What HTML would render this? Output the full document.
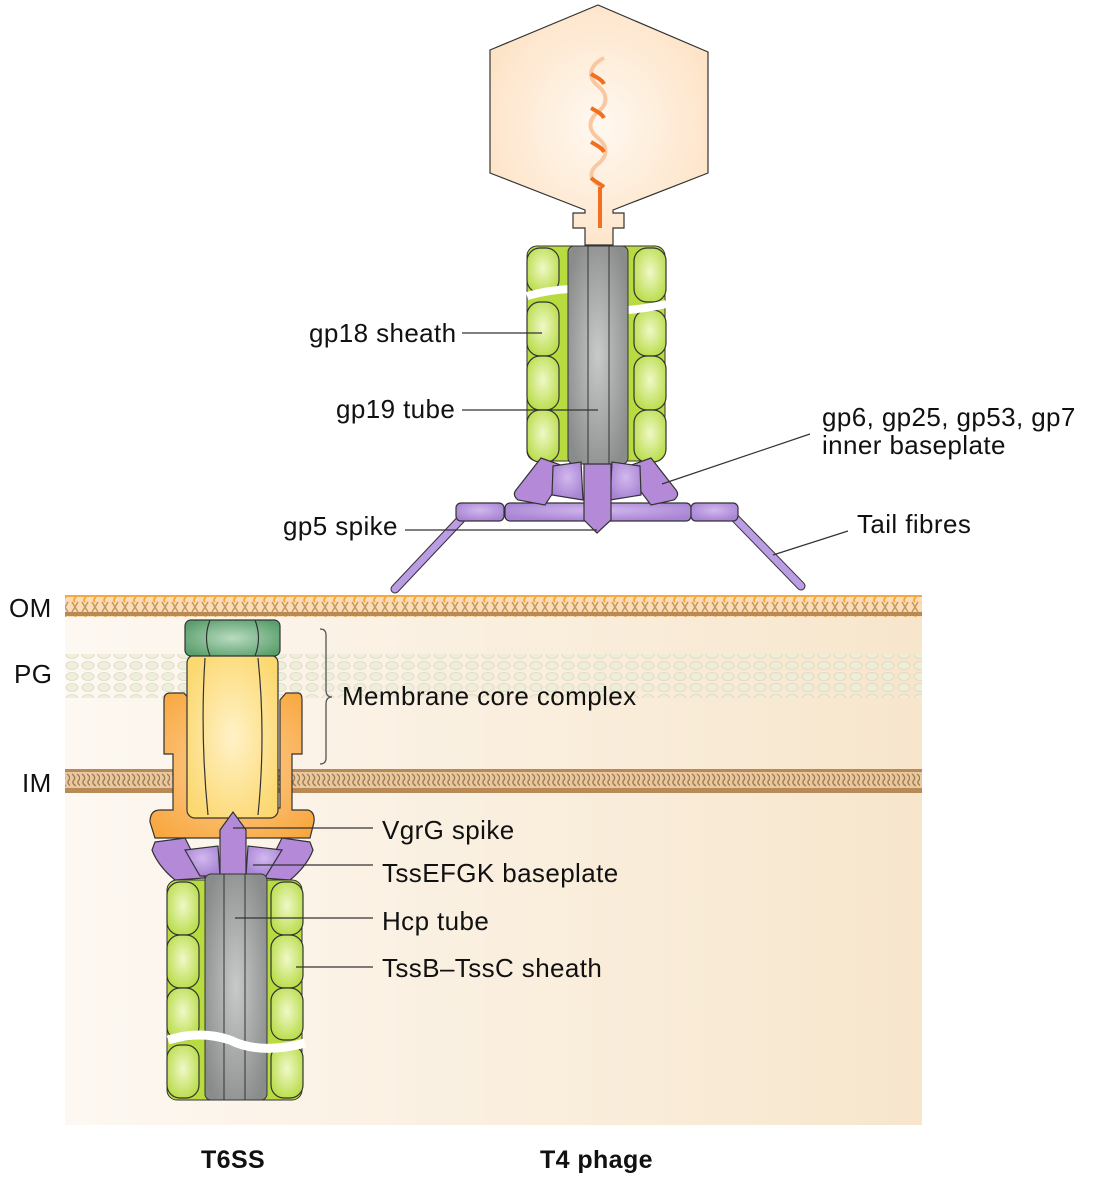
<!DOCTYPE html>
<html><head><style>
html,body{margin:0;padding:0;background:#fff}
svg{display:block}
text{font-family:"Liberation Sans",Arial,sans-serif;font-size:26px;letter-spacing:0.4px;fill:#111}
</style></head><body>
<svg width="1094" height="1180" viewBox="0 0 1094 1180" xmlns="http://www.w3.org/2000/svg">
<defs>
<linearGradient id="bg" x1="0" x2="1"><stop offset="0" stop-color="#fdf8f2"/><stop offset="1" stop-color="#f7e6cc"/></linearGradient>
<radialGradient id="head" cx="0.5" cy="0.5" r="0.6"><stop offset="0" stop-color="#fff8f0"/><stop offset="1" stop-color="#fde2c4"/></radialGradient>
<radialGradient id="grn" cx="0.5" cy="0.45" r="0.6"><stop offset="0" stop-color="#f0f8c8"/><stop offset="1" stop-color="#b8dc48"/></radialGradient>
<radialGradient id="tube" cx="0.5" cy="0.5" r="0.6"><stop offset="0" stop-color="#c8caca"/><stop offset="1" stop-color="#8a8c8c"/></radialGradient>
<radialGradient id="pur" cx="0.5" cy="0.4" r="0.6"><stop offset="0" stop-color="#d2b8ee"/><stop offset="1" stop-color="#a884d4"/></radialGradient>
<radialGradient id="yel" cx="0.5" cy="0.5" r="0.6"><stop offset="0" stop-color="#fff2c8"/><stop offset="1" stop-color="#fcd870"/></radialGradient>
<radialGradient id="org" cx="0.5" cy="0.5" r="0.7"><stop offset="0" stop-color="#fcd098"/><stop offset="1" stop-color="#f8a438"/></radialGradient>
<radialGradient id="gc" cx="0.5" cy="0.5" r="0.6"><stop offset="0" stop-color="#b8dcc0"/><stop offset="1" stop-color="#5a9e6c"/></radialGradient>
<pattern id="mem" width="10" height="22" patternUnits="userSpaceOnUse">
<rect width="10" height="22" fill="#fbdcb4"/>
<path d="M5 0 q2 2 0 4 q-2 2 0 4" stroke="#f8a030" stroke-width="1.6" fill="none"/>
<path d="M2 8 Q5 13 8 18 M8 8 Q5 13 2 18" stroke="#c49860" stroke-width="1.5" fill="none"/>
<rect y="18" width="10" height="4" fill="#b88a58"/>
</pattern>
<pattern id="im" width="10" height="24" patternUnits="userSpaceOnUse">
<rect width="10" height="24" fill="#e8c8a0"/>
<rect width="10" height="4" fill="#b88a58"/><rect y="20" width="10" height="4" fill="#b88a58"/>
<path d="M2 6 q4 3 2 6 q-3 3 2 6 M7 6 q4 3 2 6 q-3 3 2 6" stroke="#a07848" stroke-width="1.3" fill="none"/>
</pattern>
<pattern id="pg" width="16" height="11" patternUnits="userSpaceOnUse">
<ellipse cx="8" cy="5.5" rx="6" ry="4" fill="#eceed8" stroke="#dcd8c4"/>
</pattern>
</defs>

<rect x="65" y="595" width="857" height="530" fill="url(#bg)"/>
<rect x="65" y="595" width="857" height="22" fill="url(#mem)"/>
<rect x="65" y="595" width="857" height="2" fill="#f8a840"/>
<rect x="65" y="654" width="857" height="44" fill="url(#pg)" opacity="0.85"/>
<rect x="65" y="769" width="857" height="24" fill="url(#im)"/>

<line x1="462" y1="518" x2="395" y2="589" stroke="#333" stroke-width="9" stroke-linecap="round"/>
<line x1="462" y1="518" x2="395" y2="589" stroke="#bc9ce4" stroke-width="7" stroke-linecap="round"/>
<line x1="735" y1="518" x2="801" y2="586" stroke="#333" stroke-width="9" stroke-linecap="round"/>
<line x1="735" y1="518" x2="801" y2="586" stroke="#bc9ce4" stroke-width="7" stroke-linecap="round"/>

<path d="M490 50 L598 5 L708 52 L708 173 L613 210 L613 213 L624 213 L624 228 L613 228 L613 245 L585 245 L585 228 L573 228 L573 213 L585 213 L585 210 L490 173 Z" fill="url(#head)" stroke="#333" stroke-width="1.2"/>
<path d="M604 58 C588 66 588 78 598 86 C608 94 608 104 598 112 C588 120 588 130 598 138 C608 146 608 156 598 164 C588 172 590 180 600 186" stroke="#f9c8a0" stroke-width="4" fill="none"/>
<path d="M591 74 C598 78 602 80 604 84 M591 108 C598 112 602 114 604 118 M591 142 C598 146 602 148 604 152 M591 178 C596 182 600 184 604 187" stroke="#f07020" stroke-width="4" fill="none"/>
<line x1="600" y1="187" x2="600" y2="228" stroke="#f07020" stroke-width="4"/>

<rect x="527" y="246" width="138" height="215" rx="10" fill="#b8dc40" stroke="#333"/>
<g fill="url(#grn)" stroke="#333" stroke-width="1.2">
<rect x="527" y="248" width="32" height="45" rx="13"/><rect x="527" y="302" width="32" height="54" rx="13"/><rect x="527" y="356" width="32" height="54" rx="13"/><rect x="527" y="410" width="32" height="52" rx="13"/>
<rect x="634" y="248" width="32" height="54" rx="13"/><rect x="634" y="310" width="32" height="46" rx="13"/><rect x="634" y="356" width="32" height="54" rx="13"/><rect x="634" y="410" width="32" height="52" rx="13"/>
</g>
<path d="M527 296 Q548 290 570 289" stroke="#fff" stroke-width="8" fill="none"/>
<path d="M628 310 Q650 308 666 304" stroke="#fff" stroke-width="8" fill="none"/>
<rect x="568" y="246" width="60" height="218" rx="6" fill="url(#tube)" stroke="#333"/>
<line x1="588" y1="246" x2="588" y2="464" stroke="#333"/><line x1="609" y1="246" x2="609" y2="464" stroke="#333"/>

<g stroke="#333" stroke-width="1.2">
<rect x="456" y="503" width="48" height="18" rx="5" fill="url(#pur)"/>
<rect x="505" y="503" width="186" height="18" rx="5" fill="url(#pur)"/>
<rect x="691" y="503" width="47" height="18" rx="5" fill="url(#pur)"/>
<path d="M541 458 L569 468 L545 505 L518 500 Q512 495 516 490 Z" fill="#b48ad8"/>
<path d="M651 458 L623 468 L651 505 L674 500 Q680 495 676 490 Z" fill="#b48ad8"/>
<path d="M553 466 L581 462 L583 500 L552 495 Z" fill="url(#pur)"/>
<path d="M640 466 L612 462 L610 500 L641 495 Z" fill="url(#pur)"/>
<path d="M584 464 L611 464 L611 520 L597 533 L584 520 Z" fill="#b48ad8"/>
</g>

<g stroke="#333" stroke-width="1.2">
<path d="M170 693 L184 693 L190 700 L190 808 L280 808 L280 700 L286 693 L298 693 Q302 693 302 700 L302 754 L292 754 L292 810 L308 810 Q315 812 314 822 L310 838 L155 838 L150 822 Q150 810 160 810 L173 810 L173 754 L164 754 L164 700 Q164 693 170 693 Z" fill="url(#org)"/>
<rect x="187" y="655" width="91" height="163" rx="8" fill="url(#yel)"/>
<path d="M205 658 Q200 735 208 815 M258 658 Q266 735 258 815" fill="none"/>
<rect x="185" y="620" width="95" height="36" rx="6" fill="url(#gc)"/>
<path d="M210 620 Q203 638 210 656 M255 620 Q262 638 255 656" fill="none"/>
<path d="M155 842 L185 838 L205 878 L175 880 Q158 866 152 850 Z" fill="#b48ad8"/>
<path d="M310 842 L282 838 L262 878 L290 880 Q307 866 313 850 Z" fill="#b48ad8"/>
<path d="M185 850 L218 846 L220 876 L200 876 Z" fill="url(#pur)"/>
<path d="M282 850 L248 846 L246 876 L266 876 Z" fill="url(#pur)"/>
<path d="M220 830 L233 812 L246 830 L246 878 L220 878 Z" fill="#b48ad8"/>
</g>
<rect x="167" y="880" width="135" height="220" rx="10" fill="#b8dc40" stroke="#333"/>
<g fill="url(#grn)" stroke="#333" stroke-width="1.2">
<rect x="167" y="882" width="32" height="53" rx="13"/><rect x="167" y="935" width="32" height="53" rx="13"/><rect x="167" y="988" width="32" height="52" rx="13"/><rect x="167" y="1045" width="32" height="53" rx="13"/>
<rect x="271" y="882" width="32" height="53" rx="13"/><rect x="271" y="935" width="32" height="53" rx="13"/><rect x="271" y="988" width="32" height="52" rx="13"/><rect x="271" y="1045" width="32" height="53" rx="13"/>
</g>
<rect x="205" y="874" width="62" height="226" rx="6" fill="url(#tube)" stroke="#333"/>
<line x1="224" y1="874" x2="224" y2="1100" stroke="#333"/><line x1="245" y1="874" x2="245" y2="1100" stroke="#333"/>
<path d="M168 1040 Q200 1030 230 1040 Q260 1055 305 1043" stroke="#fff" stroke-width="9" fill="none"/>

<path d="M320 629 Q326 629 326 635 L326 690 Q326 697 332 697 Q326 697 326 704 L326 758 Q326 764 320 764" stroke="#555" stroke-width="1.3" fill="none"/>

<g stroke="#333" stroke-width="1.2">
<line x1="462" y1="333" x2="542" y2="333"/>
<line x1="462" y1="410" x2="598" y2="410"/>
<line x1="810" y1="434" x2="662" y2="484"/>
<line x1="405" y1="530" x2="597" y2="530"/>
<line x1="848" y1="531" x2="773" y2="555"/>
<line x1="233" y1="828" x2="373" y2="828"/>
<line x1="253" y1="865" x2="373" y2="865"/>
<line x1="235" y1="918" x2="373" y2="918"/>
<line x1="296" y1="967" x2="373" y2="967"/>
</g>

<text x="309" y="342">gp18 sheath</text>
<text x="336" y="418">gp19 tube</text>
<text x="822" y="426">gp6, gp25, gp53, gp7</text>
<text x="822" y="454">inner baseplate</text>
<text x="283" y="535">gp5 spike</text>
<text x="857" y="533">Tail fibres</text>
<text x="9" y="617">OM</text>
<text x="14" y="683">PG</text>
<text x="22" y="792">IM</text>
<text x="342" y="705">Membrane core complex</text>
<text x="382" y="839">VgrG spike</text>
<text x="382" y="882">TssEFGK baseplate</text>
<text x="382" y="930">Hcp tube</text>
<text x="382" y="977">TssB–TssC sheath</text>
<text x="201" y="1168" style="font-weight:bold;font-size:25px">T6SS</text>
<text x="540" y="1168" style="font-weight:bold;font-size:25px">T4 phage</text>
</svg>
</body></html>
